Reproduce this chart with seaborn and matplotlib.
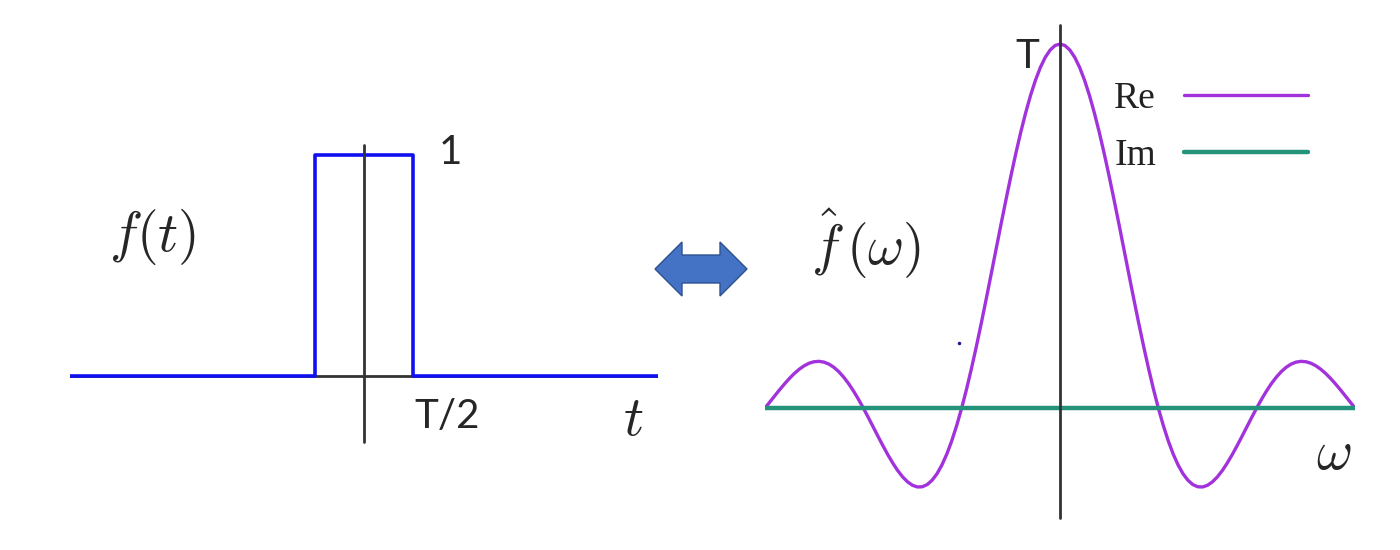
import numpy as np
import pandas as pd
import matplotlib
matplotlib.use("Agg")
import matplotlib.pyplot as plt
import seaborn as sns
from matplotlib.patches import Polygon

# ---------------- data ----------------
# left panel: rectangular pulse f(t)
pulse_t = [-6, -1, -1, 1, 1, 6]
pulse_f = [0, 0, 1, 1, 0, 0]
t_range = [-6, 6]
t_axis_span = [-0.30, 1.045]

# right panel: spectrum
omega = [-3.00, -2.95, -2.90, -2.85, -2.80, -2.75, -2.70, -2.65, -2.60, -2.55,
         -2.50, -2.45, -2.40, -2.35, -2.30, -2.25, -2.20, -2.15, -2.10, -2.05,
         -2.00, -1.95, -1.90, -1.85, -1.80, -1.75, -1.70, -1.65, -1.60, -1.55,
         -1.50, -1.45, -1.40, -1.35, -1.30, -1.25, -1.20, -1.15, -1.10, -1.05,
         -1.00, -0.95, -0.90, -0.85, -0.80, -0.75, -0.70, -0.65, -0.60, -0.55,
         -0.50, -0.45, -0.40, -0.35, -0.30, -0.25, -0.20, -0.15, -0.10, -0.05,
         0.00,
         0.05, 0.10, 0.15, 0.20, 0.25, 0.30, 0.35, 0.40, 0.45, 0.50,
         0.55, 0.60, 0.65, 0.70, 0.75, 0.80, 0.85, 0.90, 0.95, 1.00,
         1.05, 1.10, 1.15, 1.20, 1.25, 1.30, 1.35, 1.40, 1.45, 1.50,
         1.55, 1.60, 1.65, 1.70, 1.75, 1.80, 1.85, 1.90, 1.95, 2.00,
         2.05, 2.10, 2.15, 2.20, 2.25, 2.30, 2.35, 2.40, 2.45, 2.50,
         2.55, 2.60, 2.65, 2.70, 2.75, 2.80, 2.85, 2.90, 2.95, 3.00]
re_vals = [0.0, 0.0169, 0.0339, 0.0507, 0.0668, 0.0818, 0.0954, 0.1070, 0.1164, 0.1233,
           0.1273, 0.1283, 0.1261, 0.1207, 0.1120, 0.1000, 0.0850, 0.0672, 0.0468, 0.0243,
           0.0, -0.0255, -0.0518, -0.0781, -0.1039, -0.1286, -0.1514, -0.1719, -0.1892, -0.2028,
           -0.2122, -0.2168, -0.2162, -0.2101, -0.1981, -0.1801, -0.1559, -0.1257, -0.0894, -0.0474,
           0.0, 0.0524, 0.1093, 0.1700, 0.2339, 0.3001, 0.3679, 0.4363, 0.5046, 0.5716,
           0.6366, 0.6986, 0.7568, 0.8103, 0.8584, 0.9003, 0.9355, 0.9634, 0.9836, 0.9959,
           1.0,
           0.9959, 0.9836, 0.9634, 0.9355, 0.9003, 0.8584, 0.8103, 0.7568, 0.6986, 0.6366,
           0.5716, 0.5046, 0.4363, 0.3679, 0.3001, 0.2339, 0.1700, 0.1093, 0.0524, 0.0,
           -0.0474, -0.0894, -0.1257, -0.1559, -0.1801, -0.1981, -0.2101, -0.2162, -0.2168, -0.2122,
           -0.2028, -0.1892, -0.1719, -0.1514, -0.1286, -0.1039, -0.0781, -0.0518, -0.0255, 0.0,
           0.0243, 0.0468, 0.0672, 0.0850, 0.1000, 0.1120, 0.1207, 0.1261, 0.1283, 0.1273,
           0.1233, 0.1164, 0.1070, 0.0954, 0.0818, 0.0668, 0.0507, 0.0339, 0.0169, 0.0]
im_vals = [0.0] * len(omega)
w_axis_span = [-0.302, 1.052]
series_labels = ["Re", "Im"]

# ---------------- style ----------------
sns.set_theme(style="white")
plt.rcParams["mathtext.fontset"] = "cm"
plt.rcParams["font.family"] = ["Lato", "DejaVu Sans"]
plt.rcParams["lines.solid_joinstyle"] = "round"

W, H = 1400, 550
fig = plt.figure(figsize=(14, 5.5), dpi=100)
fig.patch.set_facecolor("white")

def fx(px):
    return px / W

def fy(py):
    return 1 - py / H

BLUE = "#1010F0"
AXC = "#333333"
PURPLE = "#A232DC"
GREEN = "#23937A"

# ---------- left panel ----------
axL = fig.add_axes([fx(70), fy(500), (658 - 70) / W, (500 - 100) / H])
axL.set_xlim(-6, 6)
axL.set_ylim(-0.561, 1.249)
axL.axis("off")
axL.plot(t_range, [0, 0], color=AXC, lw=2.0, zorder=1)
sns.lineplot(x=pulse_t, y=pulse_f, sort=False, estimator=None, color=BLUE,
             lw=2.6, ax=axL, zorder=2)
axL.plot([0, 0], t_axis_span, color=AXC, lw=2.0, zorder=3)

# ---------- right panel ----------
axR = fig.add_axes([fx(765), fy(530), (1355 - 765) / W, (530 - 20) / H])
axR.set_xlim(-3, 3)
axR.set_ylim(-0.335, 1.066)
axR.axis("off")
sns.lineplot(x=omega, y=re_vals, color=PURPLE, lw=2.4, ax=axR,
             label=series_labels[0], zorder=2)
sns.lineplot(x=omega, y=im_vals, color=GREEN, lw=3.2, ax=axR,
             label=series_labels[1], zorder=3)
axR.plot([0, 0], w_axis_span, color=AXC, lw=2.0, zorder=4)
axR.plot([-1.03], [0.18], marker="o", ms=1.5, color="#1a1a8a", zorder=5)

leg = axR.legend(loc="center", bbox_to_anchor=(fx(1211), fy(127)),
                 bbox_transform=fig.transFigure, frameon=False,
                 markerfirst=False, handlelength=3.3, handletextpad=0.75,
                 labelspacing=0.6, borderpad=0,
                 prop={"family": "Liberation Serif", "size": 27})
for txt in leg.get_texts():
    txt.set_color("#222222")

# ---------- texts ----------
fig.text(fx(153), fy(237), r"$f(t)$", fontsize=40, ha="center", va="center")
fig.text(fx(450), fy(153), "1", fontsize=29, ha="center", va="center")
fig.text(fx(414), fy(417), "T/2", fontsize=29, ha="left", va="center")
fig.text(fx(633), fy(419), r"$t$", fontsize=40, ha="center", va="center")
fig.text(fx(1027), fy(57), "T", fontsize=29, ha="center", va="center")
fig.text(fx(866), fy(244), r"$\hat{f}\,(\omega)$", fontsize=40,
         ha="center", va="center")
fig.text(fx(1334), fy(454), r"$\omega$", fontsize=40, ha="center", va="center")

# ---------- double arrow ----------
arrow_px = [(655, 269), (682, 242), (682, 255), (720, 255), (720, 242),
            (747, 269), (720, 296), (720, 283), (682, 283), (682, 296)]
poly = Polygon([(fx(a), fy(b)) for a, b in arrow_px], closed=True,
               transform=fig.transFigure, facecolor="#4472C4",
               edgecolor="#2F528F", lw=1.0)
fig.patches.append(poly)

fig.savefig("out.png", dpi=100, facecolor="white")
